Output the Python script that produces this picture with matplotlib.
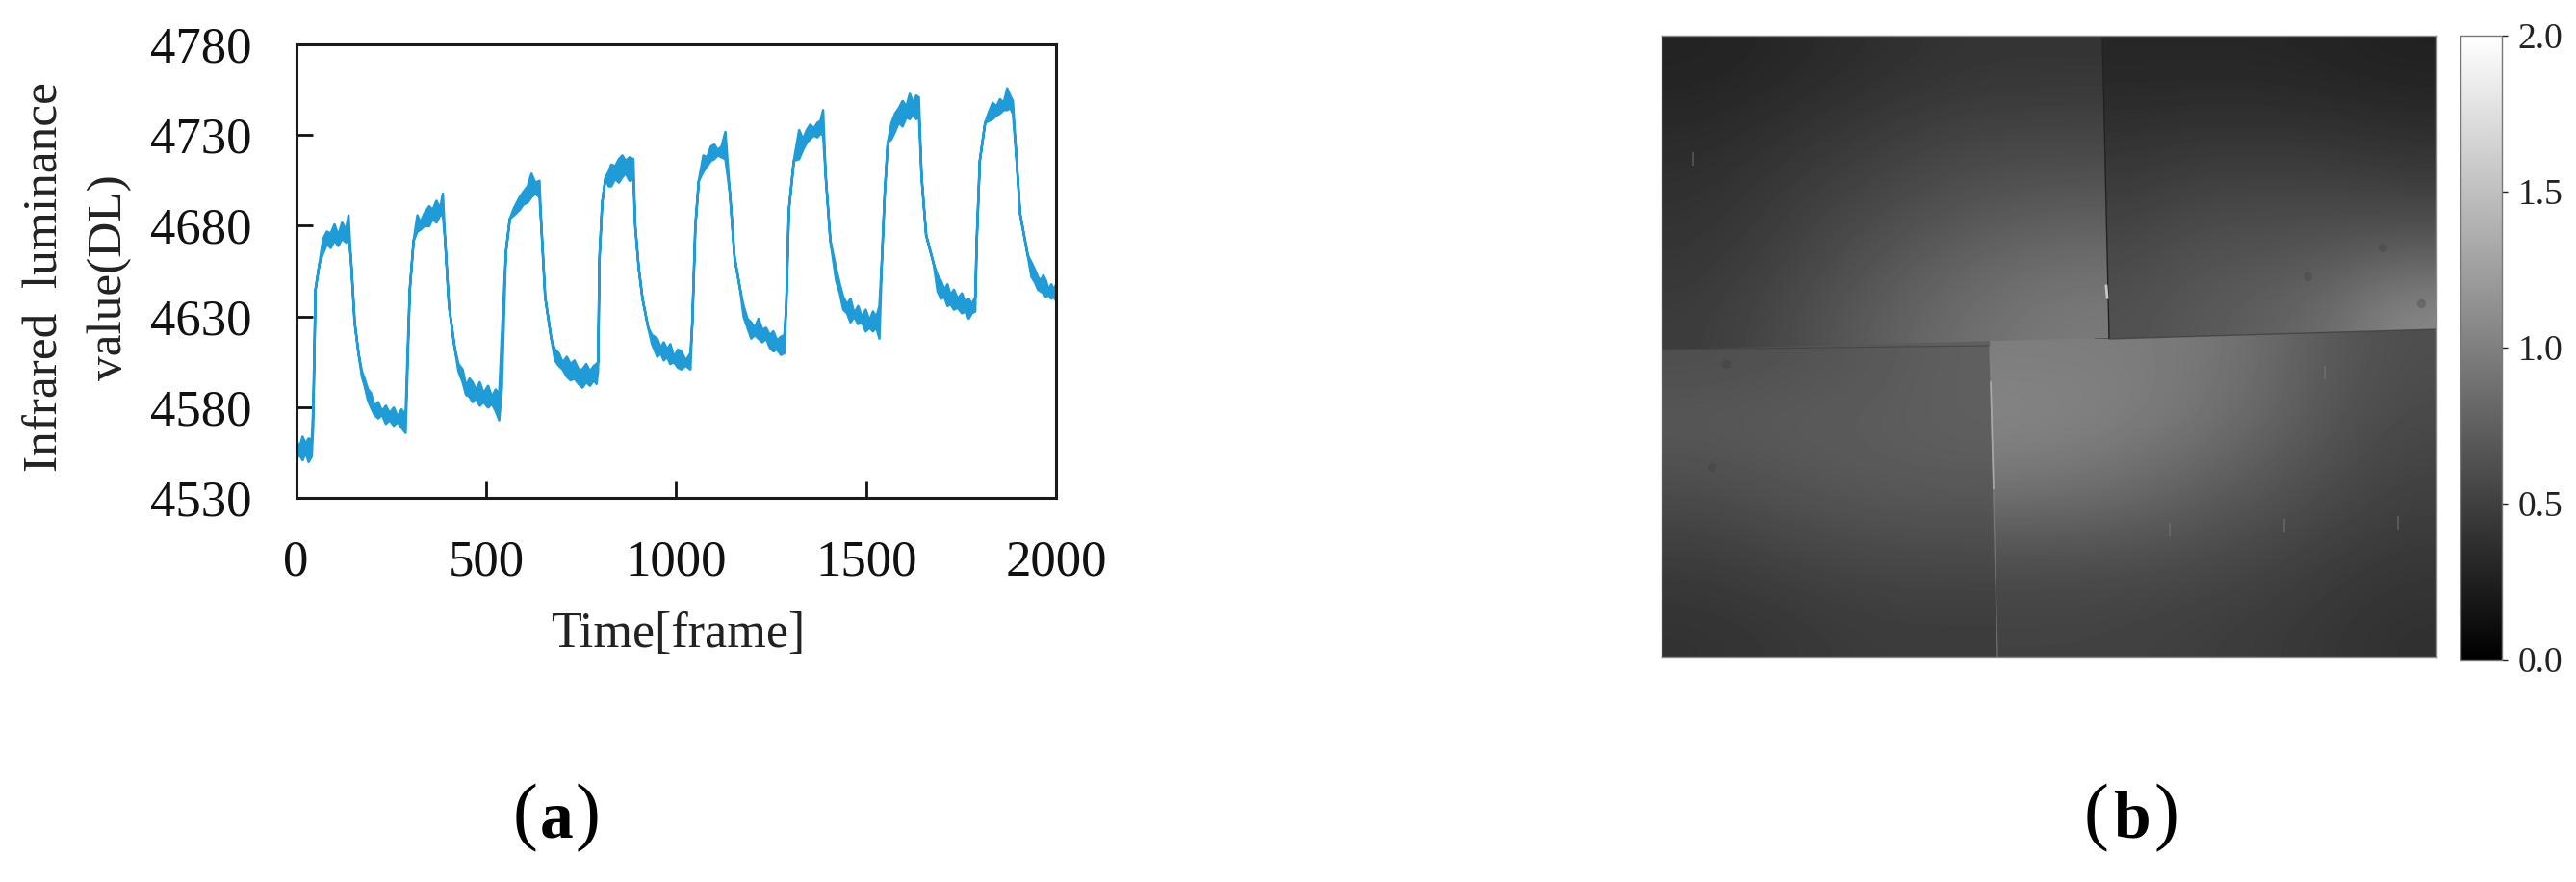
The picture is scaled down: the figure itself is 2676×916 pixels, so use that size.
import numpy as np
import matplotlib
matplotlib.use("Agg")
import matplotlib.pyplot as plt
from matplotlib.patches import Polygon
from matplotlib.cm import ScalarMappable
from matplotlib.colors import Normalize

plt.rcParams['font.family'] = ['Liberation Serif', 'DejaVu Serif']

W, H = 2676, 916

# panel (a) band of the noisy trace, one row per heating cycle
time_frame = [0, 8, 16, 24, 32, 40, 44, 50, 60, 70, 80, 90, 100, 110, 120, 130, 137, 143, 153, 163, 172, 179, 188, 196, 205, 215, 225, 235, 245, 256, 266, 276, 287,
              292, 298, 308, 318, 326, 336, 349, 358, 368, 378, 385, 391, 401, 416, 426, 437, 446, 455, 463, 472, 482, 492, 504, 514, 524, 533,
              540, 551, 561, 572, 587, 597, 608, 618, 628, 639, 644, 654, 670, 680, 690, 700, 711, 721, 731, 742, 752, 762, 772, 782, 789,
              793, 797, 804, 813, 821, 828, 838, 848, 857, 866, 876, 886, 891, 900, 910, 925, 935, 949, 958, 966, 975, 983, 993, 1003, 1012, 1024, 1036,
              1041, 1049, 1058, 1070, 1080, 1090, 1099, 1108, 1118, 1128, 1140, 1152, 1167, 1176, 1186, 1196, 1205, 1215, 1225, 1235, 1245, 1254, 1264, 1274, 1283,
              1288, 1295, 1308, 1322, 1332, 1342, 1351, 1361, 1370, 1378, 1385, 1392, 1404, 1419, 1429, 1438, 1448, 1457, 1467, 1477, 1487, 1497, 1507, 1516, 1525, 1533,
              1540, 1547, 1555, 1565, 1574, 1584, 1594, 1604, 1613, 1622, 1630, 1637, 1644, 1656, 1676, 1686, 1695, 1704, 1712, 1720, 1729, 1739, 1750, 1759, 1768, 1776, 1785,
              1789, 1797, 1811, 1821, 1831, 1841, 1850, 1860, 1869, 1877, 1884, 1894, 1903, 1923, 1933, 1942, 1950, 1957, 1964, 1971, 1978, 1985, 1992, 2000]
upper_dl = [4562, 4558, 4564, 4560, 4563, 4562, 4580, 4645, 4659, 4673, 4677, 4676, 4681, 4675, 4682, 4678, 4686, 4663, 4627, 4610, 4600, 4596, 4590, 4588, 4581, 4583, 4578, 4581, 4577, 4580, 4575, 4579, 4576,
            4610, 4645, 4672, 4686, 4682, 4687, 4691, 4689, 4694, 4690, 4698, 4672, 4636, 4613, 4604, 4601, 4592, 4596, 4594, 4590, 4594, 4588, 4592, 4586, 4590, 4587,
            4620, 4666, 4684, 4690, 4696, 4699, 4702, 4709, 4704, 4705, 4680, 4641, 4618, 4612, 4610, 4605, 4608, 4604, 4606, 4601, 4601, 4604, 4600, 4603, 4604,
            4605, 4663, 4693, 4707, 4710, 4714, 4713, 4717, 4719, 4716, 4718, 4717, 4680, 4657, 4640, 4624, 4620, 4618, 4613, 4616, 4612, 4615, 4608, 4612, 4611, 4606, 4610,
            4627, 4680, 4705, 4719, 4718, 4724, 4725, 4722, 4724, 4732, 4698, 4663, 4645, 4636, 4629, 4627, 4624, 4629, 4623, 4624, 4620, 4622, 4617, 4619, 4620,
            4636, 4689, 4716, 4733, 4728, 4733, 4736, 4734, 4737, 4738, 4744, 4707, 4672, 4657, 4648, 4641, 4637, 4640, 4632, 4636, 4630, 4634, 4628, 4633, 4630, 4636,
            4663, 4698, 4726, 4737, 4742, 4745, 4749, 4746, 4753, 4748, 4752, 4751, 4707, 4675, 4659, 4653, 4650, 4645, 4648, 4642, 4645, 4640, 4643, 4638, 4640, 4637, 4641,
            4672, 4716, 4737, 4743, 4748, 4746, 4750, 4748, 4756, 4752, 4749, 4716, 4687, 4664, 4660, 4656, 4652, 4650, 4653, 4650, 4645, 4648, 4645, 4649]
lower_dl = [4552, 4554, 4551, 4555, 4550, 4553, 4570, 4645, 4659, 4665, 4670, 4668, 4672, 4669, 4673, 4671, 4672, 4663, 4627, 4610, 4597, 4592, 4584, 4580, 4576, 4574, 4576, 4571, 4573, 4570, 4572, 4569, 4566,
            4600, 4645, 4672, 4677, 4678, 4680, 4680, 4684, 4682, 4686, 4686, 4672, 4636, 4613, 4600, 4594, 4587, 4586, 4583, 4585, 4581, 4583, 4580, 4582, 4578, 4573,
            4590, 4666, 4684, 4686, 4689, 4692, 4693, 4696, 4698, 4696, 4680, 4641, 4618, 4606, 4603, 4601, 4597, 4595, 4596, 4593, 4591, 4594, 4592, 4595, 4593,
            4600, 4663, 4693, 4707, 4702, 4702, 4706, 4704, 4707, 4709, 4705, 4706, 4680, 4657, 4640, 4624, 4615, 4608, 4610, 4606, 4608, 4604, 4605, 4602, 4601, 4603, 4601,
            4627, 4680, 4705, 4710, 4713, 4716, 4717, 4719, 4718, 4717, 4698, 4663, 4645, 4630, 4624, 4618, 4620, 4618, 4616, 4618, 4613, 4611, 4612, 4609, 4610,
            4636, 4689, 4716, 4717, 4722, 4726, 4728, 4730, 4729, 4731, 4730, 4707, 4672, 4650, 4643, 4634, 4632, 4627, 4630, 4626, 4627, 4622, 4624, 4622, 4624, 4618,
            4663, 4698, 4726, 4728, 4732, 4737, 4735, 4740, 4739, 4742, 4739, 4741, 4707, 4675, 4659, 4644, 4640, 4641, 4636, 4637, 4634, 4635, 4632, 4633, 4629, 4632, 4633,
            4672, 4716, 4737, 4738, 4739, 4741, 4742, 4744, 4744, 4745, 4742, 4716, 4687, 4664, 4652, 4649, 4645, 4644, 4643, 4641, 4642, 4640, 4641, 4638]

y_ticks = [4530, 4580, 4630, 4680, 4730, 4780]
x_ticks = [0, 500, 1000, 1500, 2000]
cbar_ticks = [0.0, 0.5, 1.0, 1.5, 2.0]

# panel (b) grey levels of the four plates, colour bar units
plate_tl = [[.27, .31, .37, .41, .41],
            [.33, .39, .47, .52, .53],
            [.38, .47, .56, .64, .67],
            [.42, .53, .66, .78, .85],
            [.47, .59, .75, .88, .96]]
plate_tr = [[.30, .30, .30, .28, .26],
            [.38, .39, .39, .38, .35],
            [.47, .52, .53, .52, .49],
            [.56, .63, .64, .67, .71],
            [.63, .69, .75, .85, 1.06]]
plate_bl = [[.61, .64, .69, .75],
            [.69, .71, .72, .75],
            [.63, .67, .71, .72],
            [.53, .59, .63, .64],
            [.45, .49, .53, .54],
            [.39, .43, .47, .47]]
plate_br = [[.98, .98, .96, .88, .71, .61],
            [1.04, 1.02, .96, .85, .69, .58],
            [.98, .94, .86, .75, .63, .53],
            [.78, .77, .71, .63, .55, .48],
            [.58, .58, .57, .53, .47, .42],
            [.52, .52, .50, .47, .43, .38]]

# small marks on the plates
speck_x = [528, 647, 765, 689, 33]
speck_y = [513, 509, 506, 350, 128]
pit_x = [52, 671, 749, 789, 67]
pit_y = [448, 250, 220, 278, 341]

blue = '#1f9bd7'


def px_axes(left, top, right, bottom):
    return fig.add_axes([left / W, 1 - bottom / H, (right - left) / W, (bottom - top) / H])


fig = plt.figure(figsize=(W / 100, H / 100), dpi=100, facecolor='white')

# panel (a)
ax = px_axes(307.5, 46, 1097.5, 517)
ax.fill_between(time_frame, lower_dl, upper_dl, color=blue, linewidth=1.8, zorder=2)
ax.set_xlim(0, 2000)
ax.set_ylim(4530, 4780)
ax.set_xticks(x_ticks)
ax.set_yticks(y_ticks)
ax.tick_params(direction='in', length=12, width=2, labelsize=38, colors='#111111')
ax.tick_params(axis='x', pad=31)
ax.tick_params(axis='y', pad=33)
for s in ax.spines.values():
    s.set_linewidth(2.2)
    s.set_color('#1a1a1a')
    s.set_zorder(3)

fig.text(47 / W, 1 - 288 / H, 'Infrared  luminance', rotation=90, ha='center', va='center', fontsize=37, color='#222222')
fig.text(114 / W, 1 - 288 / H, 'value(DL)', rotation=90, ha='center', va='center', fontsize=37, color='#222222')
fig.text(704 / W, 1 - 659 / H, 'Time[frame]', ha='center', va='center', fontsize=37.5, color='#222222')

# captions, only the letter is bold
fig.text(546 / W, 1 - 850 / H, '(', ha='center', va='center', fontsize=56)
fig.text(578 / W, 1 - 852 / H, 'a', ha='center', va='center', fontsize=50, fontweight='bold')
fig.text(610 / W, 1 - 850 / H, ')', ha='center', va='center', fontsize=56)
fig.text(2178 / W, 1 - 850 / H, '(', ha='center', va='center', fontsize=56)
fig.text(2214 / W, 1 - 852 / H, 'b', ha='center', va='center', fontsize=50, fontweight='bold')
fig.text(2250 / W, 1 - 850 / H, ')', ha='center', va='center', fontsize=56)

# panel (b), drawn from the lowest plate up so the joints overlap
bx = px_axes(1726, 37, 2531, 682)
bx.set_xticks([])
bx.set_yticks([])
for s in bx.spines.values():
    s.set_linewidth(1)
    s.set_color('#888888')

plates = [
    (plate_br, (330, 805, 645, 300), [(330, 300), (805, 300), (805, 645), (330, 645)]),
    (plate_bl, (0, 349, 645, 315), [(0, 315), (341, 315), (349, 645), (0, 645)]),
    (plate_tr, (450, 805, 316, 0), [(450, 0), (805, 0), (805, 305), (465, 315), (450, 315)]),
    (plate_tl, (0, 466, 327, 0), [(0, 0), (458, 0), (465, 314), (0, 326)]),
]
for vals, ext, outline in plates:
    im = bx.imshow(vals, cmap='gray', vmin=0, vmax=2, extent=ext, interpolation='bicubic', aspect='auto')
    im.set_clip_path(Polygon(outline, closed=True, transform=bx.transData))
bx.set_xlim(0, 805)
bx.set_ylim(645, 0)

# plate joints
bx.plot([458, 465], [0, 314], color='#222222', lw=1)
bx.plot([0, 341], [326, 322], color='#3f3f3f', lw=0.8, alpha=0.7)
bx.plot([465, 805], [315, 305], color='#3c3c3c', lw=1, alpha=0.7)
bx.plot([341, 349], [322, 645], color='#8c8c8c', lw=1, alpha=0.6)
bx.plot([342, 345], [360, 470], color='#b8b8b8', lw=1.2, alpha=0.75)
bx.plot([462, 463], [260, 272], color='#c8c8c8', lw=2)
bx.scatter(speck_x, speck_y, marker='|', s=90, c='#808080', linewidths=1.2, alpha=0.5)
bx.scatter(pit_x, pit_y, s=45, c='#3a3a3a', alpha=0.3, linewidths=0)

# colour bar
cax = px_axes(2556, 37, 2599, 685)
cb = fig.colorbar(ScalarMappable(Normalize(0, 2), 'gray'), cax=cax)
cb.set_ticks(cbar_ticks)
cb.ax.tick_params(direction='out', length=4, width=1, labelsize=27, pad=8, colors='#222222')
cb.outline.set_edgecolor('#777777')
cb.outline.set_linewidth(1)

fig.savefig('out.png', dpi=100)
